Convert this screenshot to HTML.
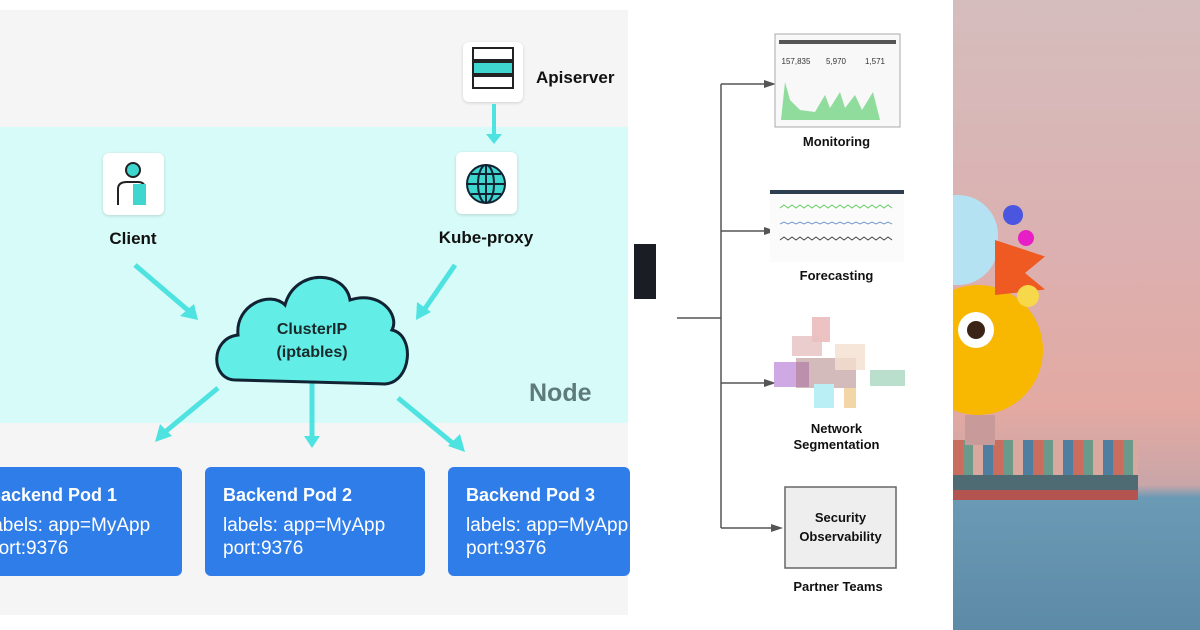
<!DOCTYPE html>
<html><head><meta charset="utf-8"><style>
body{margin:0;width:1200px;height:630px;overflow:hidden;position:relative;background:#fff;font-family:"Liberation Sans",sans-serif}
.a{position:absolute}
.pod{position:absolute;top:467px;height:109px;background:#2f7de8;border-radius:6px;color:#fff;box-sizing:border-box;padding:18px 0 0 18px}
.pod b{font-size:18px;display:block;margin-bottom:8px}
.pod span{font-size:19px;line-height:23px;display:block;white-space:nowrap}
.icon{position:absolute;width:60px;height:60px;background:#fff;border-radius:6px;box-shadow:0 1px 3px rgba(0,0,0,.15)}
.lbl{position:absolute;font-weight:bold;font-size:13px;color:#111;text-align:center}
</style></head><body>
<div class="a" style="left:0;top:10px;width:628px;height:605px;background:#f5f5f5"></div>
<div class="a" style="left:0;top:127px;width:628px;height:296px;background:#d7fbf8"></div>
<div class="icon" style="left:463px;top:42px;width:60px;height:60px"></div>
<svg class="a" style="left:0;top:0" width="630" height="630">
<g fill="none" stroke="#222" stroke-width="2">
<rect x="473" y="48" width="40" height="12"/><rect x="473" y="62" width="40" height="12" fill="#3fd6d0"/><rect x="473" y="76" width="40" height="12"/>
</g>
<line x1="494" y1="104" x2="494" y2="136" stroke="#4ee3e0" stroke-width="4"/>
<polygon points="486,134 502,134 494,144" fill="#4ee3e0"/>
<g stroke="#4ee3e0" stroke-width="5">
<line x1="135" y1="265" x2="190" y2="312"/><line x1="455" y1="265" x2="424" y2="310"/>
<line x1="218" y1="388" x2="165" y2="432"/><line x1="312" y1="360" x2="312" y2="438"/><line x1="398" y1="398" x2="455" y2="445"/>
</g>
<g fill="#4ee3e0">
<polygon points="198,320 180,316 194,304"/><polygon points="416,320 417,302 431,312"/>
<polygon points="155,442 160,424 172,436"/><polygon points="304,436 320,436 312,448"/><polygon points="465,452 448,446 460,434"/>
</g>
<path d="M236,380 C210,380 210,338 238,335 C235,305 270,290 285,305 C295,268 345,270 350,300 C380,290 400,315 392,330 C415,335 412,382 385,384 Z" fill="#62eee6" stroke="#123" stroke-width="3"/>
<text x="312" y="334" text-anchor="middle" font-size="16" font-weight="bold" fill="#1a2a2a">ClusterIP</text>
<text x="312" y="357" text-anchor="middle" font-size="16" font-weight="bold" fill="#1a2a2a">(iptables)</text>
<text x="529" y="401" font-size="25" font-weight="bold" fill="#5f7a7a">Node</text>
<text x="536" y="83" font-size="17" font-weight="bold" fill="#111">Apiserver</text>
<text x="133" y="244" text-anchor="middle" font-size="17" font-weight="bold" fill="#111">Client</text>
<text x="486" y="243" text-anchor="middle" font-size="17" font-weight="bold" fill="#111">Kube-proxy</text>
</svg>
<div class="icon" style="left:103px;top:153px;height:62px;width:61px"></div>
<svg class="a" style="left:103px;top:153px" width="61" height="62"><circle cx="30" cy="17" r="7" fill="#3fd6d0" stroke="#222" stroke-width="2"/><path d="M15,52 V36 Q15,29 24,29 H35 Q42,29 42,36 V52" fill="none" stroke="#222" stroke-width="2"/><rect x="30" y="31" width="13" height="21" fill="#3fd6d0"/></svg>
<div class="icon" style="left:456px;top:152px;height:62px;width:61px"></div>
<svg class="a" style="left:456px;top:152px" width="61" height="62"><circle cx="30" cy="32" r="19" fill="#3fd6d0" stroke="#123" stroke-width="2"/><g fill="none" stroke="#123" stroke-width="2"><ellipse cx="30" cy="32" rx="8" ry="19"/><line x1="11" y1="32" x2="49" y2="32"/><line x1="30" y1="13" x2="30" y2="51"/><line x1="15" y1="22" x2="45" y2="22"/><line x1="15" y1="42" x2="45" y2="42"/></g></svg>
<div class="pod" style="left:-30px;width:212px"><b>Backend Pod 1</b><span>labels: app=MyApp</span><span>port:9376</span></div>
<div class="pod" style="left:205px;width:220px"><b>Backend Pod 2</b><span>labels: app=MyApp</span><span>port:9376</span></div>
<div class="pod" style="left:448px;width:182px;overflow:hidden"><b>Backend Pod 3</b><span>labels: app=MyApp</span><span>port:9376</span></div>
<!-- middle -->
<div class="a" style="left:634px;top:244px;width:22px;height:55px;background:#1b1d24"></div>
<svg class="a" style="left:630px;top:0" width="323" height="630">
<g stroke="#555" stroke-width="1.5" fill="none"><line x1="47" y1="318" x2="91" y2="318"/><line x1="91" y1="84" x2="91" y2="528"/>
<line x1="91" y1="84" x2="136" y2="84"/><line x1="91" y1="231" x2="136" y2="231"/><line x1="91" y1="383" x2="136" y2="383"/><line x1="91" y1="528" x2="142" y2="528"/></g>
<g fill="#555"><polygon points="146,84 134,80 134,88"/><polygon points="146,231 134,227 134,235"/><polygon points="146,383 134,379 134,387"/><polygon points="153,528 141,524 141,532"/></g>
<rect x="145" y="34" width="125" height="93" fill="#f8f8f8" stroke="#aaa"/>
<rect x="149" y="40" width="117" height="4" fill="#555"/>
<text x="166" y="64" font-size="8" text-anchor="middle" fill="#333">157,835</text><text x="206" y="64" font-size="8" text-anchor="middle" fill="#333">5,970</text><text x="245" y="64" font-size="8" text-anchor="middle" fill="#333">1,571</text>
<path d="M151,120 L155,82 L160,100 L170,110 L185,112 L195,95 L200,108 L210,92 L215,108 L225,95 L232,110 L243,92 L250,120 Z" fill="#8fdc9c"/>
<rect x="140" y="190" width="134" height="72" fill="#fbfbfb"/><rect x="140" y="190" width="134" height="4" fill="#2c3e50"/>
<path d="M150,208 l4,-3 4,3 4,-3 4,3 4,-3 4,3 4,-3 4,3 4,-3 4,3 4,-3 4,3 4,-3 4,3 4,-3 4,3 4,-3 4,3 4,-3 4,3 4,-3 4,3 4,-3 4,3 4,-3 4,3 4,-3 4,3" stroke="#6c6" fill="none"/>
<path d="M150,224 l4,-2 4,2 4,-2 4,2 4,-2 4,2 4,-2 4,2 4,-2 4,2 4,-2 4,2 4,-2 4,2 4,-2 4,2 4,-2 4,2 4,-2 4,2 4,-2 4,2 4,-2 4,2 4,-2 4,2 4,-2 4,2" stroke="#79c" fill="none"/>
<path d="M150,240 l4,-3 4,3 4,-3 4,3 4,-3 4,3 4,-3 4,3 4,-3 4,3 4,-3 4,3 4,-3 4,3 4,-3 4,3 4,-3 4,3 4,-3 4,3 4,-3 4,3 4,-3 4,3 4,-3 4,3 4,-3 4,3" stroke="#444" fill="none"/>
<rect x="182" y="317" width="18" height="25" fill="#e9b3b3" opacity=".8"/><rect x="162" y="336" width="30" height="20" fill="#e7c0c0" opacity=".8"/>
<rect x="144" y="362" width="35" height="25" fill="#c9a0e0" opacity=".9"/><rect x="166" y="358" width="60" height="30" fill="#a77" opacity=".5"/>
<rect x="205" y="344" width="30" height="26" fill="#f4e0d0" opacity=".8"/><rect x="240" y="370" width="35" height="16" fill="#a9d8c0" opacity=".8"/>
<rect x="184" y="384" width="20" height="24" fill="#b9eff5"/><rect x="214" y="388" width="12" height="20" fill="#f3d6a8"/>
<rect x="155" y="487" width="111" height="81" fill="#eee" stroke="#666" stroke-width="1.5"/>
</svg>
<div class="lbl" style="left:770px;top:134px;width:133px">Monitoring</div>
<div class="lbl" style="left:770px;top:268px;width:133px">Forecasting</div>
<div class="lbl" style="left:770px;top:421px;width:133px;line-height:16px">Network<br>Segmentation</div>
<div class="lbl" style="left:785px;top:508px;width:111px;line-height:19px">Security<br>Observability</div>
<div class="lbl" style="left:778px;top:579px;width:120px">Partner Teams</div>
<!-- right -->
<div class="a" style="left:953px;top:0;width:247px;height:630px;background:linear-gradient(#d5bdbd 0%,#dcb0b0 40%,#e3a9a2 65%,#c9a6a8 77%,#6a9ab5 79%,#5d8ba7 100%)"></div>
<div class="a" style="left:953px;top:440px;width:185px;height:50px;background:#4e6a72"></div>
<div class="a" style="left:953px;top:490px;width:185px;height:10px;background:#b35450"></div>
<div class="a" style="left:953px;top:440px;width:185px;height:35px;background:repeating-linear-gradient(90deg,#c96d5e 0 10px,#6b9a8a 10px 20px,#d9a9a0 20px 30px,#4f7ea0 30px 40px)"></div>
<div class="a" style="left:965px;top:415px;width:30px;height:30px;background:#c99a9a"></div>
<div class="a" style="left:913px;top:285px;width:130px;height:130px;border-radius:50%;background:#f8b700;clip-path:inset(0 0 0 40px)"></div>
<div class="a" style="left:958px;top:312px;width:36px;height:36px;border-radius:50%;background:#fff"></div>
<div class="a" style="left:967px;top:321px;width:18px;height:18px;border-radius:50%;background:#3b2416"></div>
<div class="a" style="left:953px;top:195px;width:45px;height:90px;background:#b5e2f2;border-radius:0 40px 40px 0"></div>
<div class="a" style="left:995px;top:240px;width:50px;height:55px;background:#ee5a22;clip-path:polygon(0 0,100% 30%,60% 60%,100% 90%,0 100%)"></div>
<div class="a" style="left:1003px;top:205px;width:20px;height:20px;border-radius:50%;background:#4a55e0"></div>
<div class="a" style="left:1018px;top:230px;width:16px;height:16px;border-radius:50%;background:#e81fc7"></div>
<div class="a" style="left:1017px;top:285px;width:22px;height:22px;border-radius:50%;background:#f7d84a"></div>
</body></html>
